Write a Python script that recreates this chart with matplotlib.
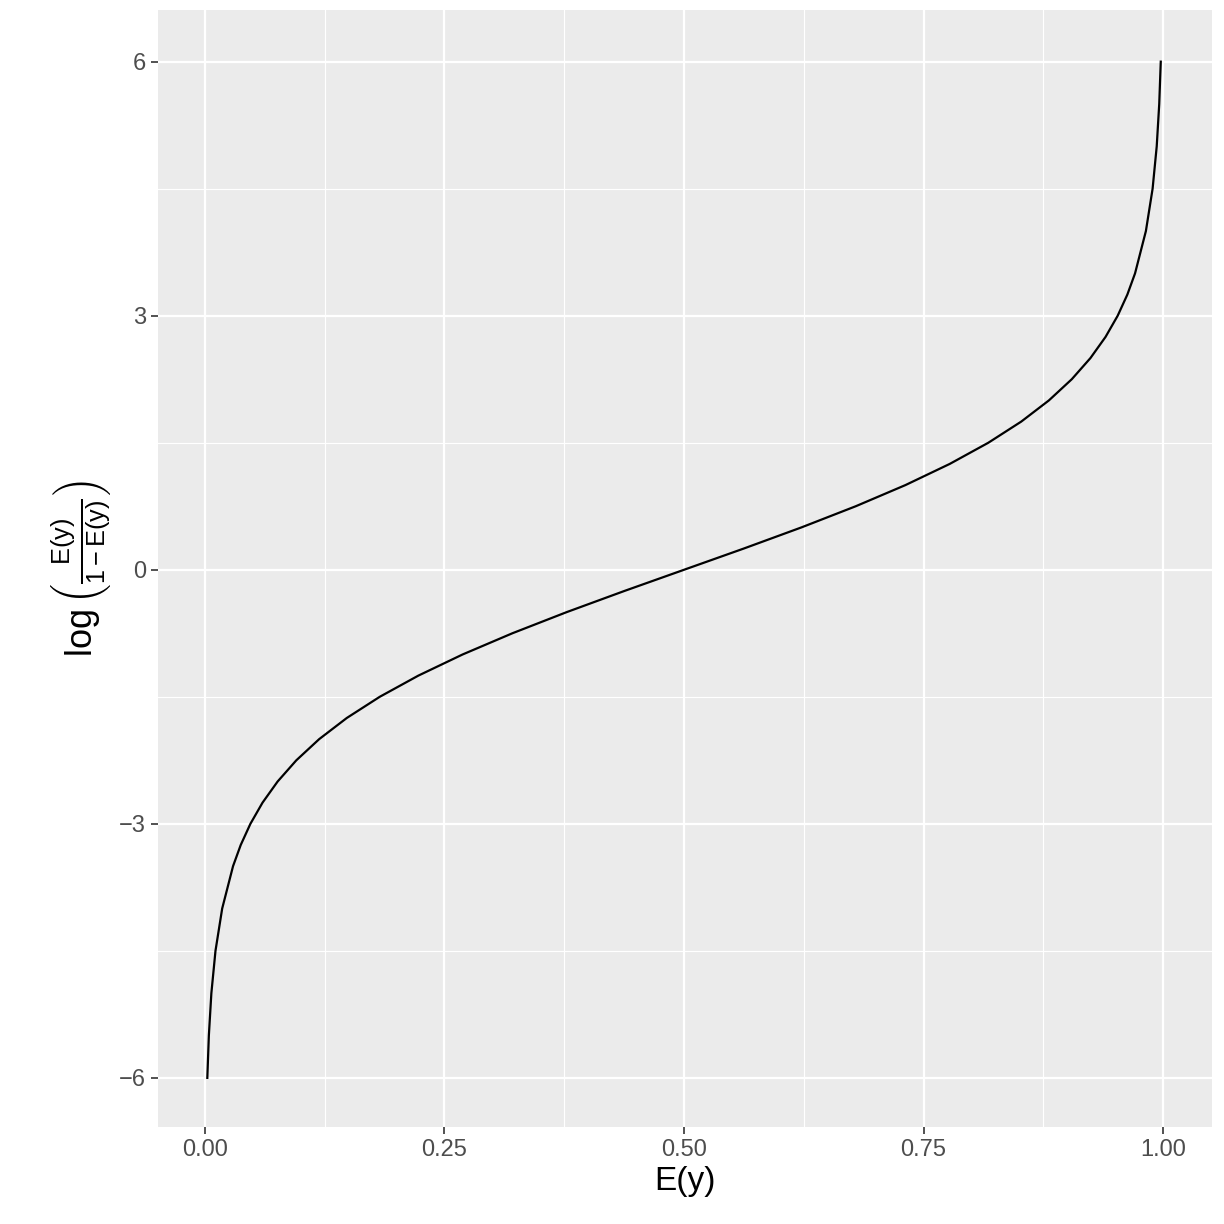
import matplotlib
matplotlib.use("Agg")
import matplotlib.pyplot as plt
import numpy as np

plt.rcParams['font.family'] = ['Liberation Sans', 'DejaVu Sans']
plt.rcParams['mathtext.fontset'] = 'custom'
plt.rcParams['mathtext.rm'] = 'Liberation Sans'
plt.rcParams['mathtext.it'] = 'Liberation Sans'

# values (negative half; positive half is its mirror)
eta_neg = [-6, -5.5, -5, -4.5, -4, -3.5, -3.25, -3, -2.75, -2.5, -2.25, -2, -1.75,
           -1.5, -1.25, -1, -0.75, -0.5, -0.25]
p_neg = [0.002473, 0.004070, 0.006693, 0.010987, 0.017986, 0.029312, 0.037327,
         0.047426, 0.060087, 0.075858, 0.095349, 0.119203, 0.148047, 0.182426,
         0.222700, 0.268941, 0.320821, 0.377541, 0.437823]
eta = eta_neg + [0] + [-e for e in eta_neg[::-1]]
p = p_neg + [0.5] + [1 - v for v in p_neg[::-1]]

xticks = [0.0, 0.25, 0.5, 0.75, 1.0]
xlabels = ['0.00', '0.25', '0.50', '0.75', '1.00']
yticks = [-6, -3, 0, 3, 6]

fig = plt.figure(figsize=(12.24, 12.24), dpi=100)
ax = fig.add_axes([158/1224, 97/1224, 1054/1224, 1117/1224])
ax.set_facecolor('#EBEBEB')
ax.plot(p, eta, color='black', lw=1.6, zorder=3)
ax.set_xlim(-0.049, 1.051)
ax.set_ylim(-6.58, 6.61)
ax.set_xticks(xticks)
ax.set_xticklabels(xlabels)
ax.set_yticks(yticks)
ax.set_xticks([0.125, 0.375, 0.625, 0.875], minor=True)
ax.set_yticks([-4.5, -1.5, 1.5, 4.5], minor=True)
ax.grid(which='major', color='white', lw=1.6)
ax.grid(which='minor', color='white', lw=0.8)
ax.set_axisbelow(True)
for s in ax.spines.values():
    s.set_visible(False)
ax.tick_params(which='major', length=5, width=1.2, color='#333333', labelsize=17, labelcolor='#4D4D4D')
ax.tick_params(which='minor', length=0)
ax.set_xlabel('E(y)', fontsize=24)
ax.set_ylabel(r'$\log\left(\frac{\mathrm{E(y)}}{1-\mathrm{E(y)}}\right)$', fontsize=26)
fig.savefig('out.png', dpi=100)
